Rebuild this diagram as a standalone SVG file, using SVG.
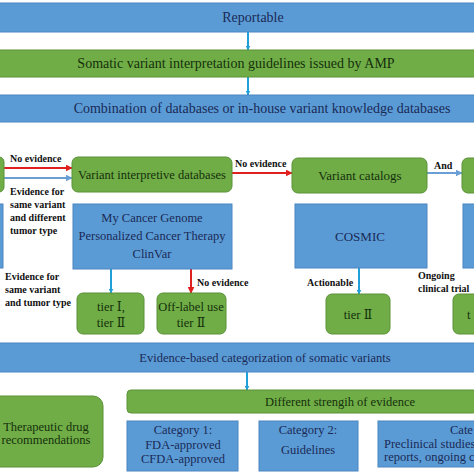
<svg xmlns="http://www.w3.org/2000/svg" width="474" height="474" viewBox="0 0 474 474" font-family="'Liberation Serif', 'Times New Roman', 'DejaVu Serif', serif">
<defs>
<marker id="ab" viewBox="0 0 10 10" refX="9" refY="5" markerWidth="5" markerHeight="5" orient="auto" markerUnits="userSpaceOnUse"><path d="M0,0 L10,5 L0,10 z" fill="#1fa0db"/></marker>
<marker id="ar" viewBox="0 0 10 10" refX="9" refY="5" markerWidth="7" markerHeight="7" orient="auto" markerUnits="userSpaceOnUse"><path d="M0,0 L10,5 L0,10 z" fill="#e0201e"/></marker>
<marker id="al" viewBox="0 0 10 10" refX="9" refY="5" markerWidth="7" markerHeight="7" orient="auto" markerUnits="userSpaceOnUse"><path d="M0,0 L10,5 L0,10 z" fill="#6a9fd6"/></marker>
</defs>
<style>
.b{fill:#5b9bd5;stroke:#4a86c0;stroke-width:1}
.g{fill:#70ad47;stroke:#5a9238;stroke-width:1}
text{font-family:'Liberation Serif','Times New Roman','DejaVu Serif',serif}
.tb{fill:#1a2a55;text-anchor:middle}
.tg{fill:#15300b;text-anchor:middle}
.lb{fill:#111;font-weight:bold;font-size:10px}
.cb{stroke:#1fa0db;stroke-width:2;fill:none}
.cr{stroke:#e0201e;stroke-width:2;fill:none}
.cl{stroke:#6a9fd6;stroke-width:2;fill:none}
</style>
<rect width="474" height="474" fill="#fff"/>
<g id="connectors">
<line class="cb" x1="248" y1="32" x2="248" y2="50" marker-end="url(#ab)"/>
<line class="cb" x1="248" y1="77" x2="248" y2="95" marker-end="url(#ab)"/>
<line class="cr" x1="4" y1="168" x2="72" y2="168" marker-end="url(#ar)"/>
<line class="cl" x1="4" y1="178" x2="72" y2="178" marker-end="url(#al)"/>
<line class="cr" x1="232" y1="173" x2="292" y2="173" marker-end="url(#ar)"/>
<line class="cl" x1="427" y1="173" x2="462" y2="173" marker-end="url(#al)"/>
<line class="cb" x1="111" y1="269" x2="111" y2="293" marker-end="url(#ab)"/>
<line class="cr" x1="191" y1="269" x2="191" y2="293" marker-end="url(#ar)"/>
<line class="cb" x1="359" y1="268" x2="359" y2="294" marker-end="url(#ab)"/>
<line class="cb" x1="247" y1="372" x2="247" y2="390" marker-end="url(#ab)"/>
<text class="lb" x="10" y="162">No evidence</text>
<text class="lb" x="10" y="195">Evidence for</text>
<text class="lb" x="10" y="208">same variant</text>
<text class="lb" x="10" y="221">and different</text>
<text class="lb" x="10" y="234">tumor type</text>
<text class="lb" x="5" y="280">Evidence for</text>
<text class="lb" x="5" y="293">same variant</text>
<text class="lb" x="5" y="306">and tumor type</text>
<text class="lb" x="197" y="286">No evidence</text>
<text class="lb" x="235" y="167">No evidence</text>
<text class="lb" x="434" y="169">And</text>
<text class="lb" x="307" y="286">Actionable</text>
<text class="lb" x="418" y="279">Ongoing</text>
<text class="lb" x="418" y="292">clinical trial</text>
</g>
<g id="reportable"><rect class="b" x="-2" y="3" width="478" height="29"/><text class="tb" x="253" y="22" font-size="14">Reportable</text></g>
<g id="amp"><rect class="g" x="-2" y="50" width="478" height="27"/><text class="tg" x="236" y="68" font-size="14">Somatic variant interpretation guidelines issued by AMP</text></g>
<g id="combination"><rect class="b" x="-2" y="95" width="478" height="27"/><text class="tb" x="262" y="113" font-size="14">Combination of databases or in-house variant knowledge databases</text></g>
<g id="left-green"><rect class="g" x="-10" y="157" width="14" height="35" rx="5"/></g>
<g id="left-blue"><rect class="b" x="-10" y="204" width="13" height="64"/></g>
<g id="vid"><rect class="g" x="72" y="157" width="160" height="35" rx="6"/><text class="tg" x="152" y="179" font-size="12.5">Variant interpretive databases</text></g>
<g id="mcg"><rect class="b" x="73" y="204" width="159" height="65"/><text class="tb" font-size="12.5"><tspan x="152" y="222">My Cancer Genome</tspan><tspan x="152" y="240">Personalized Cancer Therapy</tspan><tspan x="152" y="258">ClinVar</tspan></text></g>
<g id="tier12"><rect class="g" x="77" y="293" width="67" height="41" rx="6"/><text class="tg" font-size="12.5"><tspan x="111" y="311">tier Ⅰ,</tspan><tspan x="111" y="327">tier Ⅱ</tspan></text></g>
<g id="offlabel"><rect class="g" x="157" y="293" width="69" height="41" rx="6"/><text class="tg" font-size="12.5"><tspan x="191" y="311">Off-label use</tspan><tspan x="191" y="327">tier Ⅱ</tspan></text></g>
<g id="catalogs"><rect class="g" x="292" y="158" width="135" height="35" rx="6"/><text class="tg" x="360" y="180" font-size="13">Variant catalogs</text></g>
<g id="cosmic"><rect class="b" x="295" y="204" width="132" height="64"/><text class="tb" x="360" y="241" font-size="13">COSMIC</text></g>
<g id="tier2"><rect class="g" x="326" y="294" width="64" height="40" rx="6"/><text class="tg" x="358" y="319" font-size="12.5">tier Ⅱ</text></g>
<g id="right-green"><rect class="g" x="462" y="158" width="20" height="35" rx="6"/></g>
<g id="right-blue"><rect class="b" x="463" y="204" width="20" height="64"/></g>
<g id="right-tier"><rect class="g" x="453" y="294" width="30" height="40" rx="6"/><text x="467" y="319" font-size="12.5" fill="#15300b">t</text></g>
<g id="categorization"><rect class="b" x="-2" y="343" width="478" height="29"/><text class="tb" x="265" y="362" font-size="12.5">Evidence-based categorization of somatic variants</text></g>
<g id="strength"><rect class="g" x="127" y="390" width="350" height="23" rx="4"/><text class="tg" x="340" y="406" font-size="12.5">Different strengih of evidence</text></g>
<g id="therapeutic"><rect class="g" x="-40" y="396" width="143" height="71" rx="10"/><text class="tg" font-size="12.5"><tspan x="46" y="431">Therapeutic drug</tspan><tspan x="46" y="444">recommendations</tspan></text></g>
<g id="cat1"><rect class="b" x="127" y="421" width="111" height="50"/><text class="tb" font-size="12.5"><tspan x="183" y="434">Category 1:</tspan><tspan x="183" y="449">FDA-approved</tspan><tspan x="183" y="463">CFDA-approved</tspan></text></g>
<g id="cat2"><rect class="b" x="259" y="421" width="99" height="50"/><text class="tb" font-size="12.5"><tspan x="308" y="434">Category 2:</tspan><tspan x="308" y="454">Guidelines</tspan></text></g>
<g id="cat3"><rect class="b" x="378" y="421" width="100" height="46"/><text fill="#1a2a55" font-size="12.5"><tspan x="450" y="434">Cate</tspan><tspan x="384" y="448">Preclinical studies</tspan><tspan x="384" y="461">reports, ongoing c</tspan></text></g>
</svg>
